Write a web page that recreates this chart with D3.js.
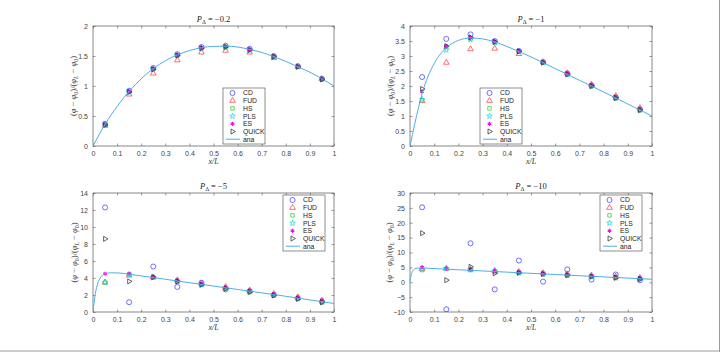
<!DOCTYPE html>
<html>
<head>
<meta charset="utf-8">
<script src="https://cdn.jsdelivr.net/npm/d3@7"></script>
<style>
  body { margin: 0; background: #fff; }
  text { font-family: "Liberation Sans", Arial, sans-serif; }
  .tex { font-family: "Liberation Serif", "DejaVu Serif", serif; }
</style>
</head>
<body>
<div id="drawing"></div>
<script>
// grid nodes where the schemes were solved
const xNodes = [0.05, 0.15, 0.25, 0.35, 0.45, 0.55, 0.65, 0.75, 0.85, 0.95];
const seriesNames = ["CD", "FUD", "HS", "PLS", "ES", "QUICK"];

// P = -0.2
const anaX1 = [0, 0.05, 0.1, 0.15, 0.2, 0.25, 0.3, 0.35, 0.4, 0.45, 0.5, 0.55, 0.6, 0.65, 0.7, 0.75, 0.8, 0.85, 0.9, 0.95, 1];
const anaY1 = [0, 0.36, 0.66, 0.91, 1.12, 1.29, 1.42, 1.52, 1.59, 1.64, 1.66, 1.665, 1.65, 1.61, 1.56, 1.49, 1.41, 1.32, 1.23, 1.12, 1.0];
const cd1    = [0.37, 0.92, 1.30, 1.53, 1.65, 1.67, 1.62, 1.50, 1.33, 1.12];
const fud1   = [0.34, 0.86, 1.21, 1.43, 1.56, 1.59, 1.56, 1.47, 1.32, 1.12];
const hs1    = [0.35, 0.90, 1.28, 1.51, 1.63, 1.65, 1.60, 1.49, 1.32, 1.11];
const pls1   = [0.35, 0.90, 1.28, 1.51, 1.63, 1.65, 1.60, 1.49, 1.32, 1.11];
const es1    = [0.36, 0.91, 1.29, 1.52, 1.64, 1.66, 1.61, 1.50, 1.33, 1.12];
const quick1 = [0.35, 0.90, 1.28, 1.51, 1.63, 1.65, 1.60, 1.49, 1.32, 1.11];

// P = -1
const anaX2 = [0, 0.02, 0.05, 0.1, 0.15, 0.2, 0.25, 0.3, 0.35, 0.4, 0.45, 0.5, 0.55, 0.6, 0.65, 0.7, 0.75, 0.8, 0.85, 0.9, 0.95, 1];
const anaY2 = [0, 0.75, 1.75, 2.75, 3.27, 3.52, 3.6, 3.57, 3.47, 3.32, 3.15, 2.97, 2.78, 2.58, 2.39, 2.19, 2.0, 1.8, 1.6, 1.4, 1.2, 1.0];
const cd2    = [2.30, 3.57, 3.72, 3.50, 3.17, 2.80, 2.42, 2.02, 1.62, 1.22];
const fud2   = [1.50, 2.78, 3.23, 3.25, 3.07, 2.80, 2.43, 2.05, 1.67, 1.27];
const hs2    = [1.52, 3.30, 3.58, 3.45, 3.15, 2.78, 2.38, 1.99, 1.59, 1.19];
const pls2   = [1.55, 3.20, 3.55, 3.45, 3.15, 2.78, 2.39, 2.00, 1.60, 1.20];
const es2    = [1.82, 3.33, 3.62, 3.50, 3.18, 2.80, 2.43, 2.04, 1.65, 1.25];
const quick2 = [1.90, 3.33, 3.62, 3.47, 3.15, 2.78, 2.39, 2.00, 1.60, 1.20];

// P = -5
const anaX3 = [0, 0.005, 0.01, 0.02, 0.03, 0.04, 0.05, 0.07, 0.1, 0.15, 0.2, 0.3, 0.4, 0.5, 0.6, 0.7, 0.8, 0.9, 1];
const anaY3 = [0, 1.2, 2.2, 3.4, 4.0, 4.35, 4.5, 4.6, 4.6, 4.45, 4.25, 3.85, 3.45, 3.05, 2.65, 2.25, 1.85, 1.42, 1.0];
const cd3    = [12.3, 1.15, 5.35, 2.95, 3.45, 2.65, 2.45, 2.0, 1.6, 1.2];
const fud3   = [3.5, 4.3, 4.1, 3.75, 3.35, 2.95, 2.55, 2.15, 1.75, 1.35];
const hs3    = [3.45, 4.45, 4.05, 3.55, 3.2, 2.75, 2.35, 1.95, 1.55, 1.15];
const pls3   = [3.5, 4.4, 4.05, 3.6, 3.2, 2.8, 2.4, 2.0, 1.6, 1.2];
const es3    = [4.5, 4.5, 4.15, 3.75, 3.35, 2.95, 2.55, 2.15, 1.75, 1.4];
const quick3 = [8.6, 3.6, 4.1, 3.6, 3.2, 2.75, 2.35, 1.95, 1.55, 1.15];

// P = -10
const anaX4 = [0, 0.005, 0.01, 0.02, 0.03, 0.05, 0.1, 0.2, 0.3, 0.4, 0.5, 0.6, 0.7, 0.8, 0.9, 1];
const anaY4 = [0, 2.5, 3.6, 4.5, 4.75, 4.8, 4.6, 4.2, 3.8, 3.4, 3.0, 2.6, 2.2, 1.8, 1.4, 1.0];
const cd4    = [25.2, -9.1, 13.1, -2.4, 7.3, 0.2, 4.3, 0.9, 2.6, 0.7];
const fud4   = [4.5, 4.6, 4.3, 3.9, 3.5, 3.1, 2.7, 2.3, 1.9, 1.5];
const hs4    = [4.1, 4.5, 4.1, 3.5, 3.1, 2.6, 2.2, 1.8, 1.4, 1.0];
const pls4   = [4.3, 4.6, 4.2, 3.6, 3.2, 2.8, 2.4, 1.9, 1.5, 1.1];
const es4    = [5.0, 4.6, 4.3, 3.9, 3.5, 3.1, 2.7, 2.3, 1.9, 1.5];
const quick4 = [16.5, 0.7, 5.2, 3.0, 3.2, 2.8, 2.4, 1.9, 1.5, 1.1];

const titles = ["\u22120.2", "\u22121", "\u22125", "\u221210"];
const yTicks1 = [0, 0.5, 1, 1.5, 2];
const yTicks2 = [0, 0.5, 1, 1.5, 2, 2.5, 3, 3.5, 4];
const yTicks3 = [0, 2, 4, 6, 8, 10, 12, 14];
const yTicks4 = [-10, -5, 0, 5, 10, 15, 20, 25, 30];
const xTicks = [0, 0.1, 0.2, 0.3, 0.4, 0.5, 0.6, 0.7, 0.8, 0.9, 1];

// marker styles (matlab-ish: bo, r^, gs, ch, m*, k>)
const styles = {
  CD:    {color: "#3333ff", shape: d3.symbolCircle, size: 20, rot: 0, sw: 0.7},
  FUD:   {color: "#ff3333", shape: d3.symbolTriangle, size: 14, rot: 0, sw: 0.7},
  HS:    {color: "#22cc22", shape: d3.symbolSquare, size: 12, rot: 0, sw: 0.7},
  PLS:   {color: "#22dddd", shape: d3.symbolStar, size: 10, rot: 0, sw: 0.8},
  ES:    {color: "#ff00ff", shape: d3.symbolAsterisk, size: 12, rot: 0, sw: 1.1},
  QUICK: {color: "#222222", shape: d3.symbolTriangle, size: 11, rot: 90, sw: 0.7}
};
const anaColor = "#4DAEE3";

const panels = [
  {left: 93, top: 26, w: 241, h: 120, yDom: [0, 2], yTicks: yTicks1, title: titles[0],
   anaX: anaX1, anaY: anaY1, vals: [cd1, fud1, hs1, pls1, es1, quick1], legend: [223, 88], ylab: 76},
  {left: 410, top: 26, w: 242, h: 120, yDom: [0, 4], yTicks: yTicks2, title: titles[1],
   anaX: anaX2, anaY: anaY2, vals: [cd2, fud2, hs2, pls2, es2, quick2], legend: [480, 88], ylab: 393},
  {left: 93, top: 193, w: 241, h: 119, yDom: [0, 14], yTicks: yTicks3, title: titles[2],
   anaX: anaX3, anaY: anaY3, vals: [cd3, fud3, hs3, pls3, es3, quick3], legend: [283, 195], ylab: 77},
  {left: 410, top: 193, w: 242, h: 119, yDom: [-10, 30], yTicks: yTicks4, title: titles[3],
   anaX: anaX4, anaY: anaY4, vals: [cd4, fud4, hs4, pls4, es4, quick4], legend: [600, 195], ylab: 392}
];

const svg = d3.select("#drawing").append("svg")
  .attr("width", 720).attr("height", 352);

// thin frame on right and bottom
svg.append("line").attr("x1", 0).attr("x2", 720).attr("y1", 351).attr("y2", 351)
  .attr("stroke", "#9a9a9a").attr("stroke-width", 1);
svg.append("line").attr("x1", 719.5).attr("x2", 719.5).attr("y1", 0).attr("y2", 352)
  .attr("stroke", "#9a9a9a").attr("stroke-width", 1);

function marker(g, name, x, y) {
  const s = styles[name];
  g.append("path")
    .attr("d", d3.symbol(s.shape, s.size)())
    .attr("transform", `translate(${x},${y}) rotate(${s.rot})`)
    .attr("fill", "none")
    .attr("stroke", s.color)
    .attr("stroke-width", s.sw);
}

panels.forEach((p, i) => {
  const g = svg.append("g").attr("transform", `translate(${p.left},${p.top})`);
  const xScale = d3.scaleLinear().domain([0, 1]).range([0, p.w]);
  const yScale = d3.scaleLinear().domain(p.yDom).range([p.h, 0]);

  // axes, ticks inward
  const axStyle = sel => {
    sel.select(".domain").remove();
    sel.selectAll("line").attr("stroke", "#555").attr("stroke-width", 0.6);
    sel.selectAll("text").attr("fill", "#444").style("font-size", "7px");
  };
  g.append("g").attr("transform", `translate(0,${p.h})`)
    .call(d3.axisBottom(xScale).tickValues(xTicks).tickSizeInner(-2.5).tickSizeOuter(0)
      .tickPadding(5).tickFormat(d3.format("~g")))
    .call(axStyle);
  g.append("g")
    .call(d3.axisTop(xScale).tickValues(xTicks).tickSizeInner(-2.5).tickSizeOuter(0).tickFormat(""))
    .call(axStyle);
  g.append("g")
    .call(d3.axisLeft(yScale).tickValues(p.yTicks).tickSizeInner(-2.5).tickSizeOuter(0)
      .tickPadding(5).tickFormat(d3.format("~g")))
    .call(axStyle);
  g.append("g").attr("transform", `translate(${p.w},0)`)
    .call(d3.axisRight(yScale).tickValues(p.yTicks).tickSizeInner(-2.5).tickSizeOuter(0).tickFormat(""))
    .call(axStyle);
  g.append("rect").attr("width", p.w).attr("height", p.h)
    .attr("fill", "none").attr("stroke", "#555").attr("stroke-width", 0.7);

  const clipId = "clip" + i;
  g.append("clipPath").attr("id", clipId).append("rect").attr("width", p.w).attr("height", p.h);
  const plot = g.append("g").attr("clip-path", `url(#${clipId})`);

  seriesNames.forEach((name, k) => {
    const sg = plot.append("g");
    p.vals[k].forEach((v, j) => marker(sg, name, xScale(xNodes[j]), yScale(v)));
  });

  const anaPts = p.anaX.map((x, j) => [x, p.anaY[j]]);
  plot.append("path")
    .datum(anaPts)
    .attr("fill", "none")
    .attr("stroke", anaColor)
    .attr("stroke-width", 1)
    .attr("d", d3.line().x(d => xScale(d[0])).y(d => yScale(d[1])).curve(d3.curveMonotoneX));

  // title
  const t = svg.append("text").attr("class", "tex")
    .attr("x", p.left + p.w / 2).attr("y", p.top - 4)
    .attr("text-anchor", "middle").style("font-size", "8.5px").attr("fill", "#222");
  t.append("tspan").style("font-style", "italic").text("P");
  t.append("tspan").attr("dy", 2).style("font-size", "6px").text("\u0394");
  t.append("tspan").attr("dy", -2).text(" = " + p.title);

  // x label
  svg.append("text").attr("class", "tex")
    .attr("x", p.left + p.w / 2).attr("y", p.top + p.h + 18)
    .attr("text-anchor", "middle").style("font-size", "8px").style("font-style", "italic")
    .attr("fill", "#333").text("x/L");

  // y label
  const yl = svg.append("text").attr("class", "tex")
    .attr("transform", `translate(${p.ylab},${p.top + p.h / 2}) rotate(-90)`)
    .attr("text-anchor", "middle").style("font-size", "8.5px").attr("fill", "#444");
  yl.append("tspan").text("(");
  yl.append("tspan").style("font-style", "italic").text("\u03c6");
  yl.append("tspan").text(" \u2212 ");
  yl.append("tspan").style("font-style", "italic").text("\u03c6");
  yl.append("tspan").attr("dy", 1.8).style("font-size", "6px").text("0");
  yl.append("tspan").attr("dy", -1.8).text(")/(");
  yl.append("tspan").style("font-style", "italic").text("\u03c6");
  yl.append("tspan").attr("dy", 1.8).style("font-size", "6px").style("font-style", "italic").text("L");
  yl.append("tspan").attr("dy", -1.8).text(" \u2212 ");
  yl.append("tspan").style("font-style", "italic").text("\u03c6");
  yl.append("tspan").attr("dy", 1.8).style("font-size", "6px").text("0");
  yl.append("tspan").attr("dy", -1.8).text(")");

  // legend
  const lg = svg.append("g").attr("transform", `translate(${p.legend[0]},${p.legend[1]})`);
  lg.append("rect").attr("width", 42).attr("height", 56)
    .attr("fill", "#fff").attr("stroke", "#444").attr("stroke-width", 0.6);
  const rowH = 7.7;
  seriesNames.forEach((name, k) => {
    const cy = 5 + k * rowH;
    marker(lg, name, 9.5, cy);
    lg.append("text").attr("x", 20).attr("y", cy + 2.4)
      .style("font-size", "6.8px").attr("fill", "#222").text(name);
  });
  const cyA = 5 + 6 * rowH;
  lg.append("line").attr("x1", 3).attr("x2", 17).attr("y1", cyA).attr("y2", cyA)
    .attr("stroke", anaColor).attr("stroke-width", 1);
  lg.append("text").attr("x", 20).attr("y", cyA + 2.4)
    .style("font-size", "6.8px").attr("fill", "#222").text("ana");
});
</script>
</body>
</html>
